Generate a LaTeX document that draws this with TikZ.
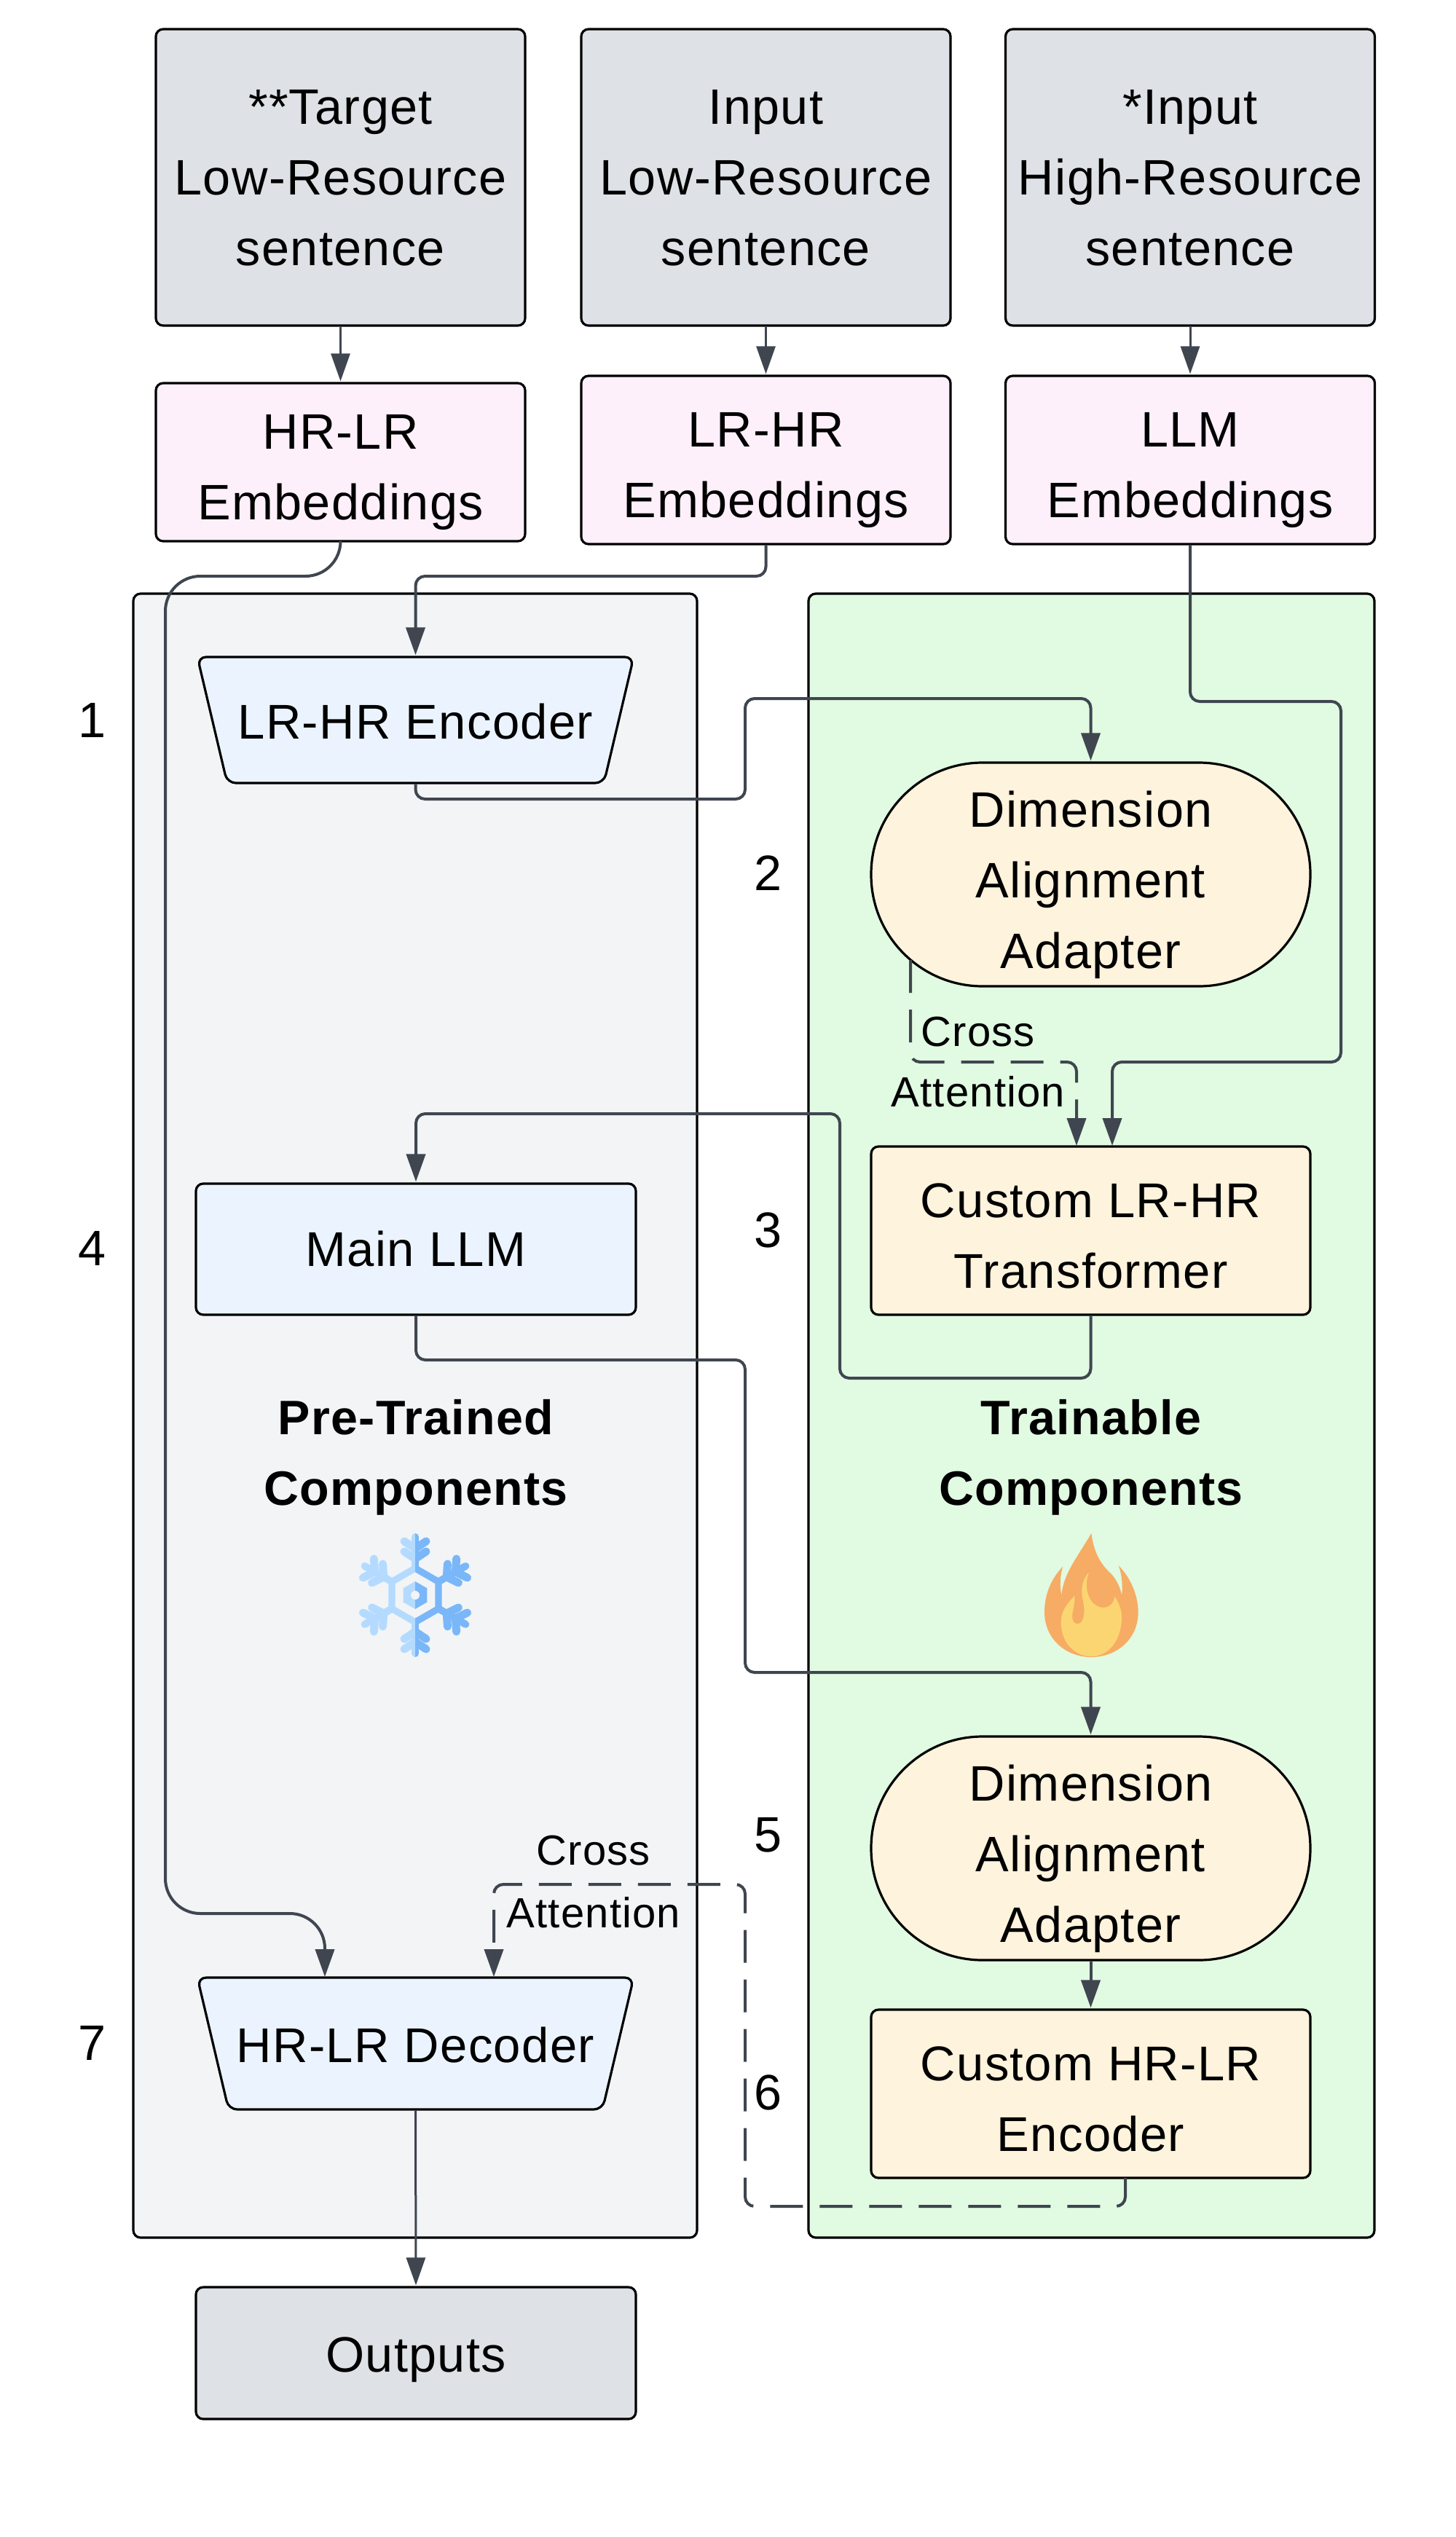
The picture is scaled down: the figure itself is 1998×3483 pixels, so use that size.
\documentclass[tikz,border=0pt]{standalone}
\usepackage{fontspec}
\setmainfont[LetterSpace=2]{Liberation Sans}
\usetikzlibrary{shapes.geometric,arrows.meta,calc}
\definecolor{edgec}{HTML}{3F4650}
\definecolor{grayf}{HTML}{DEE2E6}
\definecolor{pinkf}{HTML}{FDF0FA}
\definecolor{bluef}{HTML}{EBF4FE}
\definecolor{creamf}{HTML}{FEF3DC}
\definecolor{panl}{HTML}{F2F4F6}
\definecolor{panr}{HTML}{E1FAE2}
\definecolor{flakel}{HTML}{B4DBFF}
\definecolor{flaker}{HTML}{7AB7F8}
\definecolor{fireo}{HTML}{F6AC64}
\definecolor{firey}{HTML}{FCD573}
\newcommand\capsz{\fontsize{33.5}{48.5}\selectfont}
\tikzset{
  x=0.5pt,y=-0.5pt,
  lbl/.style={font=\fontsize{34.2}{48.5}\selectfont,align=center,text=black,inner sep=0pt},
  txt/.style 2 args={label={[lbl,yshift=#1]center:{#2}}},
  boxbase/.style={draw=black,line width=1.6pt,rounded corners=5pt,inner sep=0pt},
  srcbox/.style={boxbase,fill=grayf,minimum width=253.5pt,minimum height=203.5pt},
  embbox/.style={boxbase,fill=pinkf,minimum width=253.5pt},
  pretr/.style={boxbase,fill=bluef,minimum width=302pt},
  train/.style={boxbase,fill=creamf,minimum width=301.5pt},
  stadium/.style={boxbase,fill=creamf,minimum width=301.5pt,minimum height=153.5pt,rounded corners=76.5pt},
  trap/.style={draw=black,line width=1.6pt,fill=bluef,shape=trapezium,trapezium left angle=76.7,trapezium right angle=76.7,
    shape border rotate=180,trapezium stretches body=true,minimum width=299.5pt,inner sep=0pt,rounded corners=6pt},
  panelbox/.style={draw=black,line width=1.6pt,rounded corners=5pt,inner sep=0pt},
  edge/.style={draw=edgec,line width=2pt,rounded corners=6.5pt,-{Triangle[length=19pt,width=13pt]},shorten >=0.5pt},
  thinedge/.style={edge,line width=1.5pt},
  dashedge/.style={edge,dash pattern=on 22.5pt off 11.5pt},
  heading/.style={lbl,font=\fontsize{33.2}{48.5}\selectfont\bfseries},
  num/.style={lbl},
  small/.style={lbl,font=\fontsize{29}{36}\selectfont}
}
\begin{document}
\begin{tikzpicture}
\useasboundingbox (0,0) rectangle (1998,3483);
% panels
\node[panelbox,fill=panl,minimum width=387pt,minimum height=1128.5pt] (pl) at (570,1943.5) {};
\node[panelbox,fill=panr,minimum width=388.5pt,minimum height=1128.5pt] (pr) at (1498.5,1943.5) {};
% sources
\node[srcbox,txt={-0.5pt}{**Target\\Low-Resource\\sentence}] (s1) at (467.5,243.5) {};
\node[srcbox,txt={-0.5pt}{Input\\Low-Resource\\sentence}] (s2) at (1051.5,243.5) {};
\node[srcbox,txt={-0.5pt}{*Input\\High-Resource\\sentence}] (s3) at (1634,243.5) {};
% embeddings
\node[embbox,minimum height=108.5pt,txt={-7pt}{HR-LR\\Embeddings}] (e1) at (467.5,634.5) {};
\node[embbox,minimum height=115.5pt,txt={-7pt}{LR-HR\\Embeddings}] (e2) at (1051.5,631.5) {};
\node[embbox,minimum height=115.5pt,txt={-7pt}{LLM\\Embeddings}] (e3) at (1634,631.5) {};
% left column
\node[trap,txt={-1pt}{\capsz LR-HR Encoder}] (enc) at (570.5,988.5) {\rule{0pt}{86.5pt}};
\node[pretr,minimum height=90pt,txt={0pt}{\capsz Main LLM}] (llm) at (571,1715) {};
\node[heading] (hl) at (571,2001) {Pre-Trained\\Components};
\node[trap,txt={-1pt}{\capsz HR-LR Decoder}] (dec) at (570.5,2805.5) {\rule{0pt}{90.5pt}};
\node[boxbase,fill=grayf,minimum width=302pt,minimum height=90.5pt,txt={-4.5pt}{Outputs}] (out) at (571,3230.5) {};
% right column
\node[stadium,txt={-7pt}{Dimension\\Alignment\\Adapter}] (a1) at (1497.5,1200.5) {};
\node[train,minimum height=115.5pt,txt={-3.5pt}{\capsz Custom LR-HR\\\capsz Transformer}] (t1) at (1497.5,1689.5) {};
\node[heading] (hr) at (1498,2001) {Trainable\\Components};
\node[stadium,txt={-7pt}{Dimension\\Alignment\\Adapter}] (a2) at (1497.5,2537.5) {};
\node[train,minimum height=115.5pt,txt={-3.5pt}{\capsz Custom HR-LR\\\capsz Encoder}] (t2) at (1497.5,2874.5) {};
% numbers
\node[num] (n1) at (127,989) {1};
\node[num] (n2) at (1055,1199) {2};
\node[num] (n3) at (1055,1689) {3};
\node[num] (n4) at (127,1714) {4};
\node[num] (n5) at (1055,2519) {5};
\node[num] (n6) at (1055,2873) {6};
\node[num] (n7) at (127,2805) {7};
% connector end points
\coordinate (a1d) at (1250,1318);
\coordinate (t1dn) at (1478,1574);
\coordinate (t1ln) at (1527,1574);
\coordinate (t2o) at (1545,2990);
\coordinate (decd) at (678,2715);
\coordinate (decs) at (446,2715);
% connectors
\draw[thinedge] (s1.south) -- (e1.north);
\draw[thinedge] (s2.south) -- (e2.north);
\draw[thinedge] (s3.south) -- (e3.north);
\draw[edge,rounded corners=24pt] (e1.south) -- (467.5,791) -- (227,791) -- (227,2627) -- (446,2627) -- (decs);
\draw[edge] (e2.south) -- (1051.5,791) -- (570.5,791) -- (enc.north);
\draw[edge] (enc.south) -- (570.5,1097) -- (1023,1097) -- (1023,959) -- (1497.5,959) -- (a1.north);
\draw[edge] (e3.south) -- (1634,963) -- (1841,963) -- (1841,1458) -- (1527,1458) -- (t1ln);
\draw[dashedge] (a1d) -- (1250,1458) -- (1478,1458) -- (t1dn);
\draw[edge] (t1.south) -- (1497.5,1892) -- (1153,1892) -- (1153,1529) -- (571,1529) -- (llm.north);
\draw[edge] (llm.south) -- (571,1867) -- (1023,1867) -- (1023,2296) -- (1497.5,2296) -- (a2.north);
\draw[edge] (a2.south) -- (t2.north);
\draw[dashedge] (t2o) -- (1545,3029) -- (1023,3029) -- (1023,2587) -- (678,2587) -- (decd);
\draw[thinedge] (dec.south) -- (out.north);
% edge labels
\node[small] (c1) at (1343,1417) {Cross};
\node[small] (at1) at (1343,1499) {Attention};
\node[small] (c2) at (815,2541) {Cross};
\node[small] (at2) at (815,2626) {Attention};
% snowflake
\begin{scope}[shift={(570,2190)}]
\foreach \col/\xa in {flakel/-90,flaker/0}{
\begin{scope}
\clip (\xa,-95) rectangle ++(90,190);
\draw[\col,line width=4.6pt,line join=round] (90:37)--(30:37)--(-30:37)--(-90:37)--(-150:37)--(150:37)--cycle;
\fill[\col] (90:19)--(30:19)--(-30:19)--(-90:19)--(-150:19)--(150:19)--cycle;
\foreach \r in {0,60,...,300}{
\begin{scope}[rotate=\r]
\draw[\col,line width=5pt,line cap=round] (0,-37)--(0,-80);
\draw[\col,line width=5.5pt,line cap=round] (0,-50)--(15,-60) (0,-50)--(-15,-60);
\draw[\col,line width=5.5pt,line cap=round] (0,-64)--(15,-74) (0,-64)--(-15,-74);
\end{scope}}
\end{scope}}
\fill[panl] (0,0) circle[radius=6];
\end{scope}
% flame
\begin{scope}[shift={(1370,2050)},x=0.16667pt,y=-0.16667pt]
\fill[fireo] (385,165) .. controls (395,250) and (430,300) .. (470,335)
 .. controls (490,360) and (505,390) .. (510,420) .. controls (515,380) and (510,330) .. (497,298)
 .. controls (545,345) and (578,420) .. (578,490) .. controls (578,600) and (490,675) .. (385,675)
 .. controls (280,675) and (192,600) .. (192,490) .. controls (192,410) and (225,345) .. (268,302)
 .. controls (255,340) and (255,385) .. (262,420) .. controls (270,330) and (330,260) .. (385,165) -- cycle;
\fill[firey] (375,325) .. controls (345,360) and (340,400) .. (352,450) .. controls (358,480) and (358,535) .. (330,538)
 .. controls (305,540) and (303,510) .. (310,480) .. controls (314,460) and (318,440) .. (316,422)
 .. controls (280,460) and (260,490) .. (260,530) .. controls (260,620) and (320,672) .. (385,672)
 .. controls (460,672) and (510,600) .. (510,510) .. controls (510,475) and (495,445) .. (480,425)
 .. controls (480,455) and (455,475) .. (425,470) .. controls (375,460) and (350,390) .. (375,325) -- cycle;
\end{scope}
\end{tikzpicture}
\end{document}
